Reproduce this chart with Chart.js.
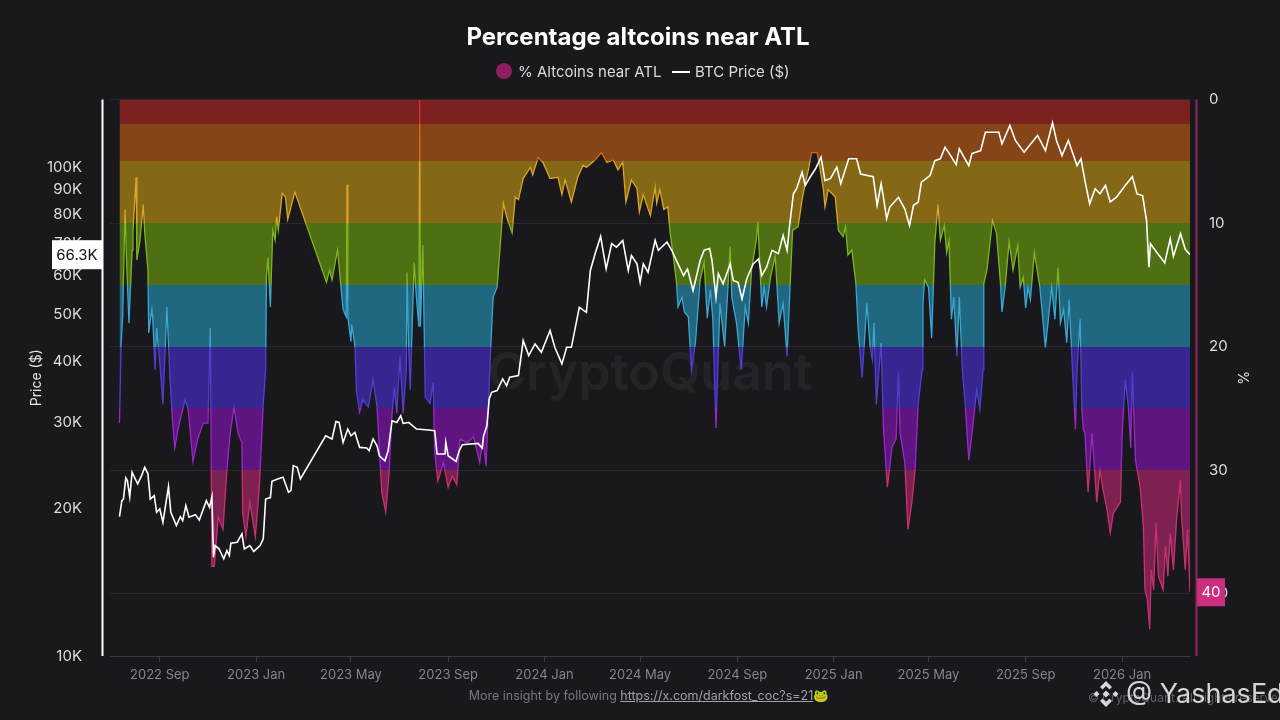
<!DOCTYPE html>
<html>
<head>
<meta charset="utf-8">
<title>Percentage altcoins near ATL</title>
<script src="https://cdn.jsdelivr.net/npm/chart.js@4/dist/chart.umd.min.js"></script>
<style>
  html, body { margin: 0; padding: 0; background: #18181d; }
  body { width: 1280px; height: 720px; overflow: hidden; position: relative; font-family: Inter, "Noto Sans", sans-serif; }
  #mainChart { position: absolute; left: 0; top: 0; }
  .abs { position: absolute; white-space: nowrap; }
  #title { left: 0; width: 1276px; top: 21px; text-align: center; font-size: 24px; font-weight: 700; color: #fff; line-height: 32px; }
  .legend-text { top: 62px; font-size: 15px; line-height: 19px; color: #dcdcde; }
  #dot { left: 496px; top: 63px; width: 16px; height: 16px; border-radius: 50%; background: #8e1f5c; }
  #dash { left: 672px; top: 71px; width: 18px; height: 2px; background: #fff; }
  #footer { left: 0; width: 1298px; top: 688px; text-align: center; font-size: 12.5px; line-height: 16px; color: #77777e; }
  #footer u { color: #a0a0a6; }
  #copy { left: 1088px; top: 690px; font-size: 12px; line-height: 15px; color: #5f5f66; }
  #mark { left: 1126px; top: 676px; font-size: 27px; line-height: 36px; color: #d4d4d6; }
  #logo { left: 1092px; top: 680px; }
</style>
</head>
<body>
<canvas id="mainChart" width="1280" height="720"></canvas>
<div class="abs" id="title">Percentage altcoins near ATL</div>
<div class="abs" id="dot"></div>
<div class="abs legend-text" style="left:518px">% Altcoins near ATL</div>
<div class="abs" id="dash"></div>
<div class="abs legend-text" style="left:695px">BTC Price ($)</div>
<div class="abs" id="footer">More insight by following <u>https://x.com/darkfost_coc?s=21</u>🐸</div>
<div class="abs" id="copy">© CryptoQuant. All rights reserved.</div>
<svg class="abs" id="logo" width="28" height="28" viewBox="0 0 28 28" fill="#d8d8da">
  <path d="M14 1 L20 7 L17.5 9.5 L14 6 L10.5 9.5 L8 7 Z"/>
  <path d="M14 27 L20 21 L17.5 18.5 L14 22 L10.5 18.5 L8 21 Z"/>
  <path d="M14 10.5 L17.5 14 L14 17.5 L10.5 14 Z"/>
  <path d="M4.5 11 L7.5 14 L4.5 17 L1.5 14 Z"/>
  <path d="M23.5 11 L26.5 14 L23.5 17 L20.5 14 Z"/>
</svg>
<div class="abs" id="mark">@ YashasEdu</div>

<script>
// x values are days counted from 2022-07-12
const tickDays = [51, 173, 293, 416, 538, 659, 782, 904, 1024, 1147, 1269];
const tickLabels = ["2022 Sep", "2023 Jan", "2023 May", "2023 Sep", "2024 Jan", "2024 May", "2024 Sep", "2025 Jan", "2025 May", "2025 Sep", "2026 Jan"];
const priceTicks = [10000, 20000, 30000, 40000, 50000, 60000, 70000, 80000, 90000, 100000];
const pctTicks = [0, 10, 20, 30, 40];

// % altcoins near ATL
const pctDays = [0,2,4,7,9,12,16,17,21,22,26,30,32,36,37,41,42,45,47,51,55,60,64,67,70,74,83,87,93,99,106,112,115,117,120,125,131,136,140,145,150,155,156,160,165,172,177,182,185,186,188,191,194,197,199,201,206,210,213,222,262,266,269,276,283,287,288,289,293,294,298,300,304,308,315,321,326,332,337,341,345,348,351,355,359,363,364,366,368,373,376,379,380,381,384,387,393,397,399,403,410,416,421,427,431,440,448,456,460,464,467,470,473,478,484,486,490,497,501,505,511,520,523,530,536,545,555,560,564,572,580,587,591,602,610,617,625,631,637,641,648,655,658,663,672,678,680,684,689,694,697,701,705,707,712,715,720,724,729,735,740,744,748,751,755,760,766,773,775,781,787,792,796,800,806,808,813,816,819,824,830,835,840,845,849,852,859,864,868,872,876,883,887,891,893,897,906,910,916,919,922,927,932,935,940,946,950,953,955,958,964,967,972,978,983,986,988,994,998,1003,1007,1011,1016,1017,1019,1024,1028,1032,1036,1039,1044,1047,1050,1053,1056,1060,1063,1067,1070,1075,1080,1085,1089,1093,1094,1098,1105,1110,1115,1117,1121,1126,1131,1137,1140,1144,1147,1150,1153,1158,1161,1165,1172,1180,1184,1188,1191,1195,1199,1202,1206,1210,1212,1216,1218,1220,1222,1226,1231,1237,1241,1245,1250,1254,1258,1267,1269,1273,1277,1280,1282,1286,1292,1296,1298,1301,1304,1306,1309,1312,1315,1321,1324,1327,1330,1334,1338,1343,1344,1349,1352,1355];
const pctValues = [26.2,19.9,17.6,8.9,13.2,18.1,12.2,10.8,6.3,13,11.4,8.5,10.8,13.8,18.9,17,17.6,21.9,18.5,21.3,24.7,16.8,22.7,25.9,28.2,26.7,24.3,25.1,29.3,27.5,26.2,26.2,18.5,37.8,37.8,33.8,34.8,30,27.1,24.9,27,27.8,33.5,35.4,32.6,35.4,31.4,24.6,21.9,14.4,12.8,16.8,10.6,11.4,9.5,10.6,7.6,7.9,9.7,7.5,14.8,13.8,14.6,12.2,17,17.6,6.9,17.6,19.6,18.2,20,23.7,25.3,24.3,24.9,22.7,24.9,31.8,33.4,30.5,25.4,23.3,25.4,20.8,25.4,21.9,14,20,23.5,13.2,16.2,18.4,0,18.4,11.8,24.1,24.6,22.9,28.6,30.9,29.4,31.4,30.5,31.2,27.5,27.8,27.3,29.4,27.5,29.7,24.6,20,16,15.2,10,8.4,9.5,10.8,7.9,8.1,6.4,5.5,6.1,4.7,5.1,6.4,6.3,7.7,6.5,8.3,6.3,5.3,5.5,4.9,4.3,5.1,4.9,5.7,5.1,8.3,6.5,7.2,9.1,7.7,9.4,7.1,8.4,7.3,8.9,8.7,10.8,12.7,14.8,16.8,16,17.2,17.6,21.9,19.7,14.6,13.2,17.7,15.4,17.8,26.6,16.5,20,11.9,16,18.1,21.9,16.8,18.1,13.8,11.4,9.9,16.8,15.2,16.8,14.4,12.7,18.1,16.5,20.8,14.8,10.6,10.3,8.1,6.8,5.7,4.3,4.3,5.7,7.3,8.7,7.3,7.9,10.6,11.1,10.3,12.6,12.2,14.8,18.6,22.5,16.5,20,21.1,18.1,24.7,19.7,26.7,31.4,28.1,27.5,22.1,27,29.4,34.8,32.6,30,24.6,21.9,16.5,14.6,15.2,19.3,11.6,8.5,11.4,10.2,12.4,11.4,17.8,16,20.8,16,22.1,24.3,29.2,26.5,23.5,25.1,21.9,14.9,13.8,9.8,10.8,14.8,17.2,15.2,11.5,13.8,11.8,15.2,14.4,16.9,15.2,16.2,12.4,13.6,15.2,20.1,15.2,17.8,13.6,18.1,17,19.7,16.2,21.6,26.7,21.9,17.8,24.9,26.7,27,31.8,27,32.6,30,31.6,33.2,35.1,33.5,32.6,27.3,22.7,24.9,28.2,22.1,29.2,31.4,34.6,39.7,40.5,42.9,38.1,39.7,34.3,38.6,39.7,36.2,38.6,35.1,38.1,34,30.8,33.4,38.1,34.8,39.9];

// BTC price in dollars
const btcDays = [0,3,5,8,10,13,16,23,28,32,36,39,44,47,51,55,62,65,72,77,80,84,88,96,101,110,114,117,119,121,126,132,136,139,141,149,155,158,165,170,178,182,185,191,193,201,207,214,217,220,225,229,261,269,274,278,283,289,293,298,304,313,316,321,326,329,336,340,345,351,356,359,366,376,391,399,402,412,413,416,426,430,434,454,459,461,465,468,471,478,485,490,494,505,511,518,526,534,545,551,560,566,572,582,591,596,602,609,616,623,629,637,644,648,655,659,663,669,678,682,693,699,705,714,719,726,735,740,747,750,755,758,764,773,777,783,788,794,802,809,813,819,826,834,840,845,848,853,857,864,868,874,881,888,893,900,908,913,923,933,938,954,959,964,967,971,975,986,994,1000,1005,1011,1015,1026,1032,1039,1045,1052,1059,1063,1075,1079,1090,1096,1113,1117,1127,1134,1145,1162,1172,1181,1186,1193,1201,1212,1217,1222,1228,1235,1241,1248,1254,1262,1273,1282,1288,1295,1300,1303,1305,1313,1318,1323,1330,1334,1343,1349,1355];
const btcValues = [19300,20800,20950,23160,22860,21170,23780,22500,23400,24340,23600,20950,21300,19690,20000,18780,22230,19690,18500,19290,18930,20320,19230,19470,18980,20800,20160,21190,15930,16830,16570,15810,16440,16060,17010,17100,17790,16570,16830,16370,16830,17370,20950,21100,22790,23050,23220,21640,21810,24540,24340,23050,28240,27810,30210,30070,27370,29150,28240,28690,26730,26650,26310,27810,26940,25700,25100,26310,30310,30070,31030,29930,30070,29150,29010,28920,25910,25910,27370,25700,25020,26310,27070,27240,26650,28240,29600,33600,34660,34940,36920,35770,37200,37500,44220,41200,43540,41850,46370,42850,39620,42850,42850,51750,50540,61550,66600,72280,62040,69840,68730,70930,61550,66060,63500,58230,63500,61050,70930,67700,70360,67700,64500,60110,62000,55990,64500,67700,68240,64500,54250,60600,57800,63500,58700,58230,53830,59180,63500,65000,60110,62500,67700,66650,72630,67700,75500,88360,90470,97800,91900,95500,99400,105000,94000,95000,100140,92600,104200,104200,97000,95800,83670,92600,86900,78600,83000,86900,82300,76100,83700,84900,93300,96300,103300,104200,110050,105800,101400,109200,100900,106800,108300,118100,118100,111800,121900,113600,107500,116300,108300,123500,113600,105800,113600,100900,104200,94000,84300,90500,88400,91900,85000,87000,91900,95800,88300,87600,77900,62500,69800,67000,65400,63800,71500,65800,73200,68000,66300];

// colour steps of the % scale: [upper edge in %, band fill, line colour]
const bandEdges = [0, 2, 5, 10, 15, 20, 25, 30, 46];
const bandFills = ["#7d2020", "#864516", "#846815", "#4e7012", "#206880", "#362690", "#5f1580", "#7d2250"];
const bandLines = ["#d83030", "#d9651f", "#d9a52a", "#7fb320", "#3ba6cf", "#5040d0", "#9a28c8", "#c93070"];

const PCT_MAX = 45.06;
const PRICE_MAX = 137800;

function bandGradient(chart, colors) {
    const area = chart.chartArea;
    if (!area) return "transparent";
    const g = chart.ctx.createLinearGradient(0, area.top, 0, area.bottom);
    colors.forEach((c, i) => {
        g.addColorStop(Math.min(bandEdges[i] / PCT_MAX, 1), c);
        g.addColorStop(Math.min(bandEdges[i + 1] / PCT_MAX, 1), c);
    });
    return g;
}

// CryptoQuant mark goes under the data
const watermark = {
    id: "watermark",
    beforeDatasetsDraw(chart) {
        const c = chart.ctx;
        c.save();
        c.font = "600 52px Inter";
        c.fillStyle = "#232328";
        c.textAlign = "center";
        c.textBaseline = "middle";
        c.fillText("CryptoQuant", 650, 374);
        c.restore();
    }
};

// axis bars set off from the plot, last value boxes
const axisExtras = {
    id: "axisExtras",
    afterDraw(chart) {
        const c = chart.ctx, a = chart.chartArea;
        c.save();
        c.lineWidth = 2;
        c.strokeStyle = "#ffffff";
        c.beginPath(); c.moveTo(102.5, a.top); c.lineTo(102.5, a.bottom); c.stroke();
        c.strokeStyle = "#8c2a5c";
        c.beginPath(); c.moveTo(1196.5, a.top); c.lineTo(1196.5, a.bottom); c.stroke();

        const lastPrice = btcValues[btcValues.length - 1];
        const lastPct = pctValues[pctValues.length - 1];
        const py = chart.scales.yPrice.getPixelForValue(lastPrice);
        const sy = chart.scales.yPct.getPixelForValue(lastPct);
        c.textAlign = "center";
        c.textBaseline = "middle";
        c.font = "15px Inter";
        c.fillStyle = "#ffffff";
        c.fillRect(52, py - 14.5, 50, 29);
        c.fillStyle = "#111114";
        c.fillText((lastPrice / 1000).toFixed(1) + "K", 77, py + 0.5);
        c.fillStyle = "#cd2d7e";
        c.fillRect(1197, sy - 14, 28, 28);
        c.fillStyle = "#ffffff";
        c.fillText(lastPct.toFixed(0), 1211, sy + 0.5);
        c.restore();
    }
};

new Chart(document.getElementById("mainChart").getContext("2d"), {
    type: "line",
    data: {
        datasets: [
            {
                label: "BTC Price ($)",
                yAxisID: "yPrice",
                data: btcDays.map((d, i) => ({ x: d, y: btcValues[i] })),
                borderColor: "#ffffff",
                borderWidth: 1.6,
                pointRadius: 0,
                tension: 0,
                fill: false,
                order: 1
            },
            {
                label: "% Altcoins near ATL",
                yAxisID: "yPct",
                data: pctDays.map((d, i) => ({ x: d, y: pctValues[i] })),
                borderColor: ctx => bandGradient(ctx.chart, bandLines),
                backgroundColor: ctx => bandGradient(ctx.chart, bandFills),
                borderWidth: 1.3,
                pointRadius: 0,
                tension: 0,
                fill: "end",
                order: 2
            }
        ]
    },
    options: {
        responsive: false,
        animation: false,
        devicePixelRatio: 1,
        layout: { padding: { top: 99.5, left: 0, right: 0, bottom: 0 } },
        plugins: { legend: { display: false }, title: { display: false }, tooltip: { enabled: false } },
        scales: {
            x: {
                type: "linear",
                min: -12,
                max: 1355,
                afterFit: s => { s.height = 64; },
                afterBuildTicks: s => { s.ticks = tickDays.map(v => ({ value: v })); },
                grid: { drawOnChartArea: false, drawTicks: true, tickLength: 6, color: "#3a3a40" },
                border: { color: "#3a3a40" },
                ticks: {
                    autoSkip: false,
                    maxRotation: 0,
                    padding: 5,
                    color: "#85858c",
                    font: { family: "Inter", size: 13 },
                    callback: (v) => tickLabels[tickDays.indexOf(v)]
                }
            },
            yPrice: {
                type: "logarithmic",
                position: "left",
                min: 10000,
                max: PRICE_MAX,
                afterFit: s => { s.width = 110; },
                afterBuildTicks: s => { s.ticks = priceTicks.map(v => ({ value: v })); },
                grid: { display: false },
                border: { display: false },
                title: { display: true, text: "Price ($)", color: "#e4e4e6", font: { family: "Inter", size: 14 }, padding: { top: 28, bottom: 0 } },
                ticks: {
                    autoSkip: false,
                    padding: 20,
                    color: "#dedee0",
                    font: { family: "Inter", size: 15 },
                    callback: v => (v / 1000) + "K"
                }
            },
            yPct: {
                type: "linear",
                position: "right",
                reverse: true,
                min: 0,
                max: PCT_MAX,
                afterFit: s => { s.width = 90; },
                afterBuildTicks: s => { s.ticks = pctTicks.map(v => ({ value: v })); },
                grid: { color: "rgba(255,255,255,0.07)", drawTicks: false },
                border: { display: false },
                title: { display: true, text: "%", color: "#e4e4e6", font: { family: "Inter", size: 14 }, padding: { top: 29, bottom: 0 } },
                ticks: {
                    autoSkip: false,
                    padding: 19,
                    color: "#dedee0",
                    font: { family: "Inter", size: 15 }
                }
            }
        }
    },
    plugins: [watermark, axisExtras]
});
</script>
</body>
</html>
